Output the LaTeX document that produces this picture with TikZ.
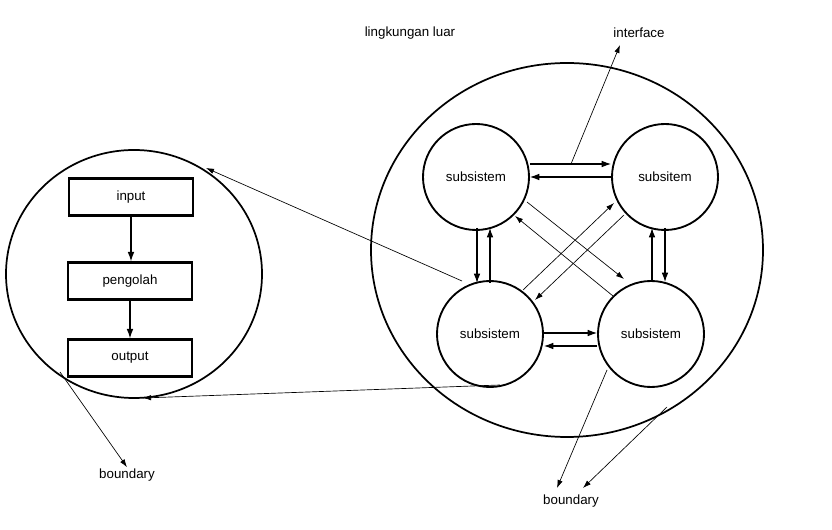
\documentclass[tikz,border=0pt]{standalone}
\usepackage{fontspec}
\setmainfont{Liberation Sans}
\usetikzlibrary{arrows.meta}
\begin{document}
\begin{tikzpicture}[x=0.75pt,y=-0.75pt,
  lbl/.style={font=\fontsize{10}{12}\selectfont, inner sep=1pt},
  sub/.style={circle, draw, line width=1.4pt, minimum size=106*0.75pt, inner sep=0pt, font=\fontsize{10}{12}\selectfont},
  box/.style={draw, line width=1.8pt, minimum width=124*0.75pt, minimum height=37*0.75pt, font=\fontsize{10}{12}\selectfont},
  ar/.style={-{Latex[length=7pt,width=5pt]}, line width=0.8pt},
  thin/.style={-{Latex[length=6pt,width=4pt]}, line width=0.5pt}]
\useasboundingbox (0,0) rectangle (832,530);
\draw[line width=1.3pt] (134,274) ellipse [x radius=128, y radius=124];
\draw[line width=1.3pt] (567,250) ellipse [x radius=196, y radius=187];
\node[box] (in) at (131,197) {input};
\node[box] (pe) at (130,281) {pengolah};
\node[box] (ou) at (130,358) {output};
\draw[ar] (in.south) -- (in.south |- pe.north);
\draw[ar] (pe.south) -- (ou.north);
\node[sub] (tl) at (476,177) {subsistem};
\node[sub] (tr) at (665,177) {subsitem};
\node[sub] (bl) at (490,334) {subsistem};
\node[sub] (br) at (651,334) {subsistem};
% horizontal
\draw[ar] (tl.east |- 0,164) -- (tr.west |- 0,164);
\draw[ar] (tr.west |- 0,177) -- (tl.east |- 0,177);
\draw[ar] (bl.east |- 0,333) -- (br.west |- 0,333);
\draw[ar] (br.west |- 0,346) -- (bl.east |- 0,346);
% vertical
\draw[ar] (477,228) -- (477,283);
\draw[ar] (490,283) -- (490,228);
\draw[ar] (652,282) -- (652,228);
\draw[ar] (665,228) -- (665,282);
% diagonals
\coordinate (d1a) at (527,202); \coordinate (d1b) at (624,279);
\coordinate (d2a) at (613,296); \coordinate (d2b) at (515,216);
\coordinate (d3a) at (523,290); \coordinate (d3b) at (614,203);
\coordinate (d4a) at (624,215); \coordinate (d4b) at (535,300);
\draw[thin] (d1a) -- (d1b);
\draw[thin] (d2a) -- (d2b);
\draw[thin] (d3a) -- (d3b);
\draw[thin] (d4a) -- (d4b);
% labels
\node[lbl] (ll) at (410,33) {lingkungan luar};
\node[lbl] (if) at (639,33) {interface};
\node[lbl] (b1) at (127,475) {boundary};
\node[lbl] (b2) at (571,501) {boundary};
\coordinate (ifs) at (571,164);
\draw[thin] (ifs) -- (620,45);
\coordinate (e1) at (462,281); \coordinate (e1t) at (206,168);
\draw[thin] (e1) -- (e1t);
\coordinate (e2) at (500,385); \coordinate (e2t) at (143,398);
\draw[thin] (e2) -- (e2t);
\coordinate (bs1) at (60,372);
\draw[thin] (bs1) -- (b1.north);
\coordinate (bs2) at (607,370); \coordinate (bs3) at (667,407);
\draw[thin] (bs2) -- (557,488);
\draw[thin] (bs3) -- (583,488);
\end{tikzpicture}
\end{document}
